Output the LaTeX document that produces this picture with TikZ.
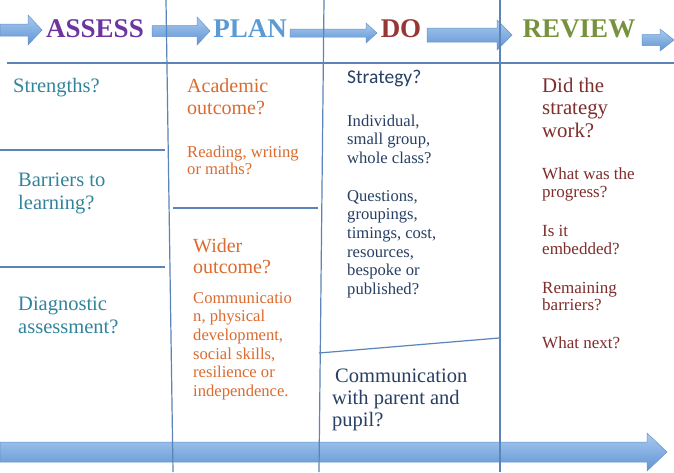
\documentclass[tikz,border=0pt]{standalone}
\usepackage{fontspec}
\setmainfont{Liberation Serif}
\newfontfamily\carlitofont{Carlito}
\definecolor{gridc}{HTML}{5B84B8}
\definecolor{arrowtop}{HTML}{A9CBEF}
\definecolor{arrowbot}{HTML}{5F94D4}
\definecolor{arrowedge}{HTML}{6A94C8}
\definecolor{assessc}{HTML}{6E35A0}
\definecolor{planc}{HTML}{5B9BD5}
\definecolor{doc}{HTML}{953735}
\definecolor{reviewc}{HTML}{76923C}
\definecolor{tealc}{HTML}{31849B}
\definecolor{orangec}{HTML}{DB6B2F}
\definecolor{navyc}{HTML}{263F63}
\definecolor{redc}{HTML}{7E2E2C}
\newcommand\blockarrow[6]{%
  \path[blk] ({#1},{#4-#5}) -- ({#2},{#4-#5}) -- ({#2},{#4-#6}) -- ({#3},{#4})
    -- ({#2},{#4+#6}) -- ({#2},{#4+#5}) -- ({#1},{#4+#5}) -- cycle;}
\newcommand\stk[1]{\begin{tabular}[t]{@{}l@{}}#1\end{tabular}}
\begin{document}
\begin{tikzpicture}[x=1pt,y=-1pt,
  grid/.style={draw=gridc, line width=1.2pt},
  blk/.style={draw=arrowedge, line width=0.5pt, top color=arrowtop, bottom color=arrowbot},
  hdr/.style={anchor=base, inner sep=0pt, font=\bfseries\fontsize{27}{27}\selectfont},
  txt/.style={anchor=base west, inner sep=0pt},
  big/.style={txt, font=\fontsize{20.5}{23}\selectfont},
  small/.style={txt, font=\fontsize{16.6}{18.7}\selectfont},
]
\useasboundingbox (0,0) rectangle (674,472);
\fill[white] (0,0) rectangle (674,472);
% arrows
\blockarrow{0}{28}{42}{30}{6}{15}
\blockarrow{152}{197}{210}{31}{5.5}{14}
\blockarrow{290}{366}{377}{33}{4}{10}
\blockarrow{427}{497}{512}{35}{7}{15}
\blockarrow{642}{660}{674}{40}{5.5}{11}
\blockarrow{0}{647}{667}{452}{10}{19}
% grid lines
\draw[grid] (7,63) -- (674,63);
\draw[grid] (166,0) -- (173,472);
\draw[grid] (324,0) -- (319,472);
\draw[grid] (500,0) -- (500,472);
\draw[grid] (0,150) -- (165,150);
\draw[grid] (0,267) -- (165,267);
\draw[grid] (173,208) -- (318,208);
\draw[grid] (319,353) -- (499,338);
% headers
\node[hdr, text=assessc] (hA) at (95,37) {ASSESS};
\node[hdr, text=planc] (hP) at (250,37) {PLAN};
\node[hdr, text=doc] (hD) at (401,37) {DO};
\node[hdr, text=reviewc] (hR) at (579,37) {REVIEW};
% assess column
\node[big, text=tealc] (s1) at (13,92) {Strengths?};
\node[big, text=tealc] (s2) at (18,186) {\stk{Barriers to\\learning?}};
\node[big, text=tealc] (s3) at (18,310) {\stk{Diagnostic\\assessment?}};
% plan column
\node[big, text=orangec, font=\fontsize{20}{22}\selectfont] (p1) at (187,92) {\stk{Academic\\outcome?}};
\node[small, text=orangec, font=\fontsize{16.6}{17.5}\selectfont] (p2) at (187,157) {\stk{Reading, writing\\or maths?}};
\node[big, text=orangec, font=\fontsize{20}{21}\selectfont] (p3) at (193,252) {\stk{Wider\\outcome?}};
\node[small, text=orangec] (p4) at (193,303) {\stk{Communicatio\\n, physical\\development,\\social skills,\\resilience or\\independence.}};
% do column
\node[txt, text=navyc, font=\carlitofont\fontsize{19.5}{22}\selectfont] (d1) at (347,83) {Strategy?};
\node[small, text=navyc, font=\fontsize{16.6}{18.5}\selectfont] (d2) at (347,126) {\stk{Individual,\\small group,\\whole class?}};
\node[small, text=navyc] (d3) at (347,201) {\stk{Questions,\\groupings,\\timings, cost,\\resources,\\bespoke or\\published?}};
\node[big, text=navyc, font=\fontsize{20.5}{22}\selectfont] (d4) at (332,382) {\stk{\hspace*{3pt}Communication\\with parent and\\pupil?}};
% review column
\node[big, text=redc, font=\fontsize{20.8}{22.5}\selectfont] (r1) at (542,92) {\stk{Did the\\strategy\\work?}};
\node[small, text=redc, font=\fontsize{17}{18}\selectfont] (r2) at (542,179) {\stk{What was the\\progress?}};
\node[small, text=redc, font=\fontsize{17}{18}\selectfont] (r3) at (542,236) {\stk{Is it\\embedded?}};
\node[small, text=redc, font=\fontsize{17}{17.5}\selectfont] (r4) at (542,293) {\stk{Remaining\\barriers?}};
\node[small, text=redc, font=\fontsize{17}{18}\selectfont] (r5) at (542,348) {What next?};
\end{tikzpicture}
\end{document}
